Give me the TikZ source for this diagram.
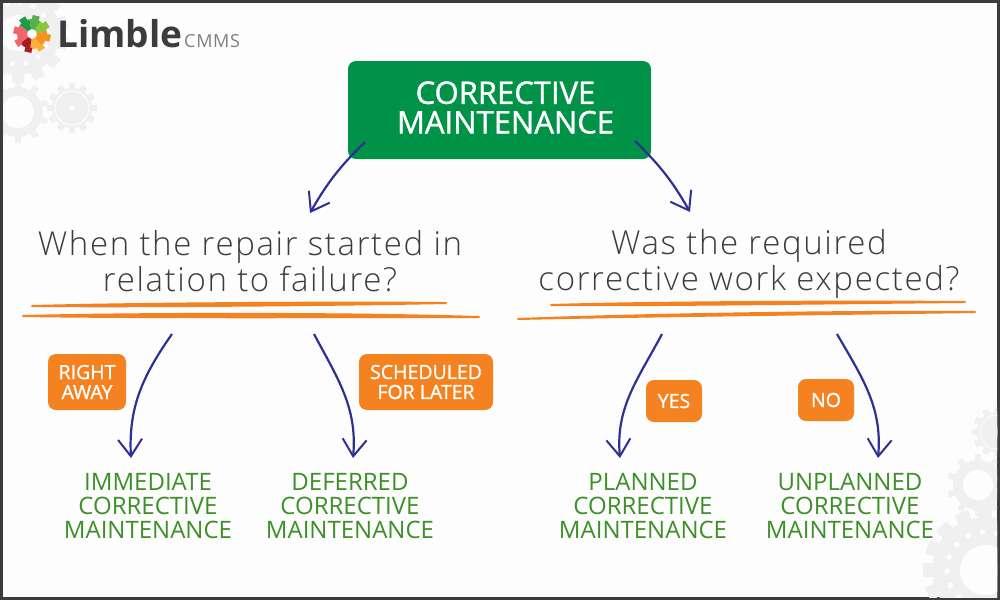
\documentclass[tikz,border=0pt]{standalone}
\usepackage{xcolor}
\usepackage{fontspec}
\setmainfont{Open Sans}
\newfontfamily\handfont{Open Sans Light}[LetterSpace=5]
\newfontfamily\semifont{Open Sans}[FakeBold=1.2]
\newfontfamily\cmmsfont{Open Sans}[LetterSpace=4]
\usetikzlibrary{calc,arrows.meta,positioning}
\definecolor{limgreen}{HTML}{009247}
\definecolor{limorange}{HTML}{F58220}
\definecolor{limblue}{HTML}{2E3192}
\definecolor{limtext}{HTML}{3D8F27}
\definecolor{limdark}{HTML}{3C3C3E}
\definecolor{limgear}{HTML}{F0F0F1}
\definecolor{limpaper}{HTML}{FDFDFD}
\definecolor{logoa}{HTML}{1F9A45}
\definecolor{logob}{HTML}{56B147}
\definecolor{logoc}{HTML}{8CC63F}
\definecolor{logod}{HTML}{F7921E}
\definecolor{logoe}{HTML}{FBB03B}
\definecolor{logof}{HTML}{A81C24}
\definecolor{logoh}{HTML}{F0666C}
\tikzset{
  mainbox/.style={fill=limgreen, rounded corners=8pt, minimum width=303pt, minimum height=98pt},
  mainlabel/.style={align=center, text=white, inner sep=0pt, font=\fontsize{31}{29.5}\selectfont\semifont},
  tagbox/.style={fill=limorange, rounded corners=8pt, align=center, text=white, inner sep=0pt, font=\fontsize{19.5}{20}\selectfont\semifont},
  leaf/.style={align=center, text=limtext, inner sep=0pt, font=\fontsize{24}{24}\selectfont},
  question/.style={align=center, text=limdark, inner sep=0pt, font=\fontsize{33}{36.5}\selectfont\handfont},
  sweep/.style={limblue, line width=2.2pt, -{Straight Barb[length=17pt,width=24pt,line width=2pt]}},
  stroke/.style={fill=limorange, draw=limorange, line width=2pt, line join=round}
}
% gear with teeth all round
\newcommand{\gearat}[6]{% x, y, outer, root, teeth, half width of a tooth
  \foreach \n in {1,...,#5}
    \fill[limgear, rotate around={360/#5*\n:(#1,#2)}] ($(#1,#2)+(-#6,0)$) rectangle ($(#1,#2)+(#6,-#3)$);
  \fill[limgear] (#1,#2) circle[radius=#4];
}
\begin{document}
\begin{tikzpicture}[x=1pt,y=-1pt]
    \useasboundingbox (0,0) rectangle (1000,600);
    \fill[limdark] (0,0) rectangle (1000,600);
    \fill[limpaper] (3,3) rectangle (997,597);
    \begin{scope}
    \clip (3,3) rectangle (997,597);
    % gears, top left
    \gearat{18}{33}{50}{42}{14}{6}
    \fill[limpaper] (18,33) circle[radius=18];
    \foreach \a in {0,25,...,340}
      \fill[limpaper] ($(18,33)+(\a:31)$) circle[radius=2.5];
    \gearat{18}{112}{31}{25}{10}{3}
    \fill[limpaper] (18,112) circle[radius=16];
    \gearat{72}{108}{25}{20}{12}{3}
    \draw[limpaper, line width=1pt] (72,108) circle[radius=17];
    \fill[limpaper] (72,108) circle[radius=2.5];
    % gears, bottom right
    \gearat{997}{432}{25}{20}{12}{3}
    \draw[limpaper, line width=1pt] (997,432) circle[radius=17];
    \gearat{978}{485}{31}{25}{10}{3}
    \fill[limpaper] (978,485) circle[radius=15];
    \gearat{985}{570}{62}{53}{16}{7}
    \fill[limpaper] (985,570) circle[radius=25];
    \foreach \a in {90,112,...,290}
      \fill[limpaper] ($(985,570)+(\a:38)$) circle[radius=2.8];
    \end{scope}
    % logo
    \foreach \s/\d/\c in {-145/45/logoa,-100/45/logob,-55/45/logoc,-10/62/logod,52/45/logoe,97/45/logof,142/73/logoh}
      \fill[\c] ($(32,34)+(\s:5)$) arc[start angle=\s, delta angle=\d, radius=5] -- ($(32,34)+(\s+\d:15)$) arc[start angle=\s+\d, delta angle=-\d, radius=15] -- cycle;
    \foreach \s/\c in {-122/logoa,-77/logob,-32/logoc,13/logod,58/logoe,103/logof,148/logoh,193/logoh}
      \fill[\c] ($(32,34)+(\s-14:14)$) -- ($(32,34)+(\s-11:19)$) -- ($(32,34)+(\s+11:19)$) -- ($(32,34)+(\s+14:14)$) -- cycle;
    \node (brand) [anchor=base west, inner sep=0pt, text=limdark, font=\fontsize{37}{37}\selectfont\bfseries] at (57,47) {Limble};
    \node (cmms) [anchor=base west, inner sep=0pt, text=gray, font=\fontsize{18}{18}\selectfont\cmmsfont] at (184,47) {CMMS};
    % top box
    \node (main) [mainbox] at (499.5,110) {};
    \node (maintext) [mainlabel] at (505.5,107.5) {CORRECTIVE\\MAINTENANCE};
    % questions
    \node (q1) [question] at (250,261) {When the repair started in\\relation to failure?};
    \node (q2) [question] at (749,264) {Was the required\\corrective work expected?};
    % strokes under questions
    \fill[stroke] (32,306) .. controls (150,303) and (350,302) .. (446,303) .. controls (350,305) and (150,307) .. (32,306) -- cycle;
    \fill[stroke] (23,316) .. controls (150,313) and (350,313) .. (479,317) .. controls (350,317) and (150,318) .. (23,316) -- cycle;
    \fill[stroke] (551,305) .. controls (650,302) and (850,301) .. (965,302) .. controls (850,303) and (650,306) .. (551,305) -- cycle;
    \fill[stroke] (518,319) .. controls (650,314) and (850,311) .. (975,312) .. controls (850,314) and (650,316) .. (518,319) -- cycle;
    % tags
    \node (t1) [tagbox, minimum width=78pt, minimum height=56pt] at (87,382) {RIGHT\\AWAY};
    \node (t2) [tagbox, minimum width=134pt, minimum height=56pt] at (426,382) {SCHEDULED\\FOR LATER};
    \node (t3) [tagbox, minimum width=56pt, minimum height=42pt] at (674,401) {YES};
    \node (t4) [tagbox, minimum width=56pt, minimum height=42pt] at (826,400) {NO};
    % leaves
    \node (l1) [leaf] at (148,506) {IMMEDIATE\\CORRECTIVE\\MAINTENANCE};
    \node (l2) [leaf] at (350,506) {DEFERRED\\CORRECTIVE\\MAINTENANCE};
    \node (l3) [leaf] at (643,506) {PLANNED\\CORRECTIVE\\MAINTENANCE};
    \node (l4) [leaf] at (850,506) {UNPLANNED\\CORRECTIVE\\MAINTENANCE};
    % arrow ends
    \coordinate (a0) at (365,142);
    \coordinate (b0) at (635,141);
    \coordinate (a1) at (310,213);
    \coordinate (b1) at (690,212);
    \coordinate (c0) at (172,334);
    \coordinate (d0) at (314,334);
    \coordinate (e0) at (662,334);
    \coordinate (f0) at (837,334);
    \coordinate (c1) at (131,458);
    \coordinate (d1) at (353,458);
    \coordinate (e1) at (620,458);
    \coordinate (f1) at (878,458);
    \path (a0) edge [sweep, bend right=8] (a1);
    \path (b0) edge [sweep, bend left=8] (b1);
    \path (c0) edge [sweep, out=-125, in=93] (c1);
    \path (d0) edge [sweep, out=-62, in=85] (d1);
    \path (e0) edge [sweep, out=-118, in=95] (e1);
    \path (f0) edge [sweep, out=-60, in=85] (f1);
\end{tikzpicture}
\end{document}
